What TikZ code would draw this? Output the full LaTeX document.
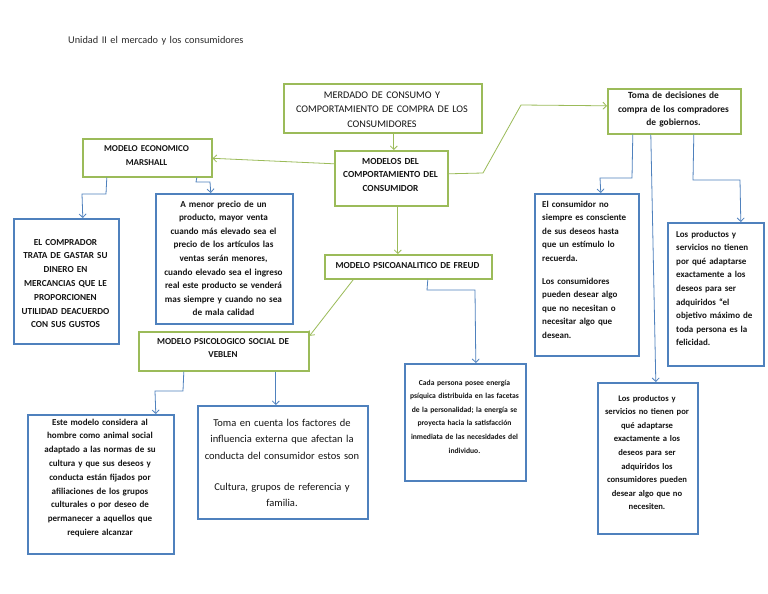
\documentclass[tikz,border=0pt]{standalone}
\usepackage{fontspec}
\setmainfont{Carlito}
\usetikzlibrary{arrows.meta}
\definecolor{gcol}{HTML}{9BBB59}
\definecolor{bcol}{HTML}{4F81BD}
\definecolor{tcol}{HTML}{141414}
\tikzset{
  gbox/.style={draw=gcol, line width=1.6pt, fill=white, anchor=north west, inner sep=0pt},
  bbox/.style={draw=bcol, line width=1.6pt, fill=white, anchor=north west, inner sep=0pt},
  txt/.style={text=tcol, align=center, inner sep=0pt, anchor=base},
  ltxt/.style={text=tcol, align=left, inner sep=0pt, anchor=base west},
  garr/.style={draw=gcol, line width=0.8pt, -{Straight Barb[length=3.5pt,width=7pt]}},
  barr/.style={draw=bcol, line width=0.8pt, -{Straight Barb[length=3.5pt,width=7pt]}}
}
\begin{document}
\begin{tikzpicture}[x=1pt,y=-1pt]
\useasboundingbox (0,0) rectangle (768,594);
\fill[white] (0,0) rectangle (768,594);

% title
\node[ltxt, text=tcol!90, font=\fontsize{10.3}{12}\selectfont, text width=250pt] (title) at (68,44) {Unidad II el mercado y los consumidores};

% boxes
\node[gbox, minimum width=198pt, minimum height=49pt] (top) at (283,83) {};
\node[gbox, minimum width=133pt, minimum height=45pt] (toma) at (607,88) {};
\node[gbox, minimum width=129pt, minimum height=38pt] (marshall) at (82,138) {};
\node[gbox, minimum width=113pt, minimum height=55pt] (modelos) at (334,150) {};
\node[bbox, minimum width=105pt, minimum height=125pt] (comprador) at (13,218) {};
\node[bbox, minimum width=137pt, minimum height=130pt] (amenor) at (155,193) {};
\node[gbox, minimum width=167pt, minimum height=24pt] (freud) at (324,254) {};
\node[gbox, minimum width=170pt, minimum height=39pt] (veblen) at (138,331) {};
\node[bbox, minimum width=104pt, minimum height=162pt] (consumidor) at (534,193) {};
\node[bbox, minimum width=96pt, minimum height=143pt] (prodR) at (667,222) {};
\node[bbox, minimum width=146pt, minimum height=139pt] (este) at (27,414) {};
\node[bbox, minimum width=170pt, minimum height=113pt] (tomaC) at (197,405) {};
\node[bbox, minimum width=121pt, minimum height=117pt] (cada) at (404,363) {};
\node[bbox, minimum width=100pt, minimum height=151pt] (prodB) at (597,382) {};

% texts
\node[txt, font=\fontsize{10.2}{14.5}\selectfont, text width=196pt] (topT) at (382,98)
  {MERDADO DE CONSUMO Y\\COMPORTAMIENTO DE COMPRA DE LOS\\CONSUMIDORES};
\node[txt, font=\bfseries\fontsize{9.4}{13.5}\selectfont, text width=131pt] (tomaT) at (673.5,99)
  {Toma de decisiones de\\compra de los compradores\\de gobiernos.};
\node[txt, font=\bfseries\fontsize{9}{14}\selectfont, text width=127pt] (marshallT) at (146.5,151)
  {MODELO ECONOMICO\\MARSHALL};
\node[txt, font=\bfseries\fontsize{9.3}{13.5}\selectfont, text width=111pt] (modelosT) at (390.5,164)
  {MODELOS DEL\\COMPORTAMIENTO DEL\\CONSUMIDOR};
\node[txt, font=\bfseries\fontsize{9.2}{12}\selectfont, text width=165pt] (freudT) at (407.5,268)
  {MODELO PSICOANALITICO DE FREUD};
\node[txt, font=\bfseries\fontsize{9.1}{13}\selectfont, text width=168pt] (veblenT) at (223,344)
  {MODELO PSICOLOGICO SOCIAL DE\\VEBLEN};
\node[txt, font=\bfseries\fontsize{9.2}{13.8}\selectfont, text width=103pt] (compradorT) at (65.5,245)
  {EL COMPRADOR\\TRATA DE GASTAR SU\\DINERO EN\\MERCANCIAS QUE LE\\PROPORCIONEN\\UTILIDAD DEACUERDO\\CON SUS GUSTOS};
\node[txt, font=\bfseries\fontsize{9.2}{13.6}\selectfont, text width=135pt] (amenorT) at (223.5,207)
  {A menor precio de un\\producto, mayor venta\\cuando más elevado sea el\\precio de los artículos las\\ventas serán menores,\\cuando elevado sea el ingreso\\real este producto se venderá\\mas siempre y cuando no sea\\de mala calidad};
\node[ltxt, font=\bfseries\fontsize{9}{13.5}\selectfont, text width=96pt] (consumidorT) at (542,207)
  {El consumidor no\\siempre es consciente\\de sus deseos hasta\\que un estímulo lo\\recuerda.\\[9.5pt]Los consumidores\\pueden desear algo\\que no necesitan o\\necesitar algo que\\desean.};
\node[ltxt, font=\bfseries\fontsize{9}{13.6}\selectfont, text width=88pt] (prodRT) at (676,237)
  {Los productos y\\servicios no tienen\\por qué adaptarse\\exactamente a los\\deseos para ser\\adquiridos “el\\objetivo máximo de\\toda persona es la\\felicidad.};
\node[txt, font=\bfseries\fontsize{9}{13.8}\selectfont, text width=144pt] (esteT) at (100,425)
  {Este modelo considera al\\hombre como animal social\\adaptado a las normas de su\\cultura y que sus deseos y\\conducta están fijados por\\afiliaciones de los grupos\\culturales o por deseo de\\permanecer a aquellos que\\requiere alcanzar};
\node[txt, font=\fontsize{10.5}{16.5}\selectfont, text width=168pt] (tomaCT) at (282,426)
  {Toma en cuenta los factores de\\influencia externa que afectan la\\conducta del consumidor estos son\\[14.5pt]Cultura, grupos de referencia y\\familia.};
\node[txt, font=\bfseries\fontsize{7.6}{13.6}\selectfont, text width=119pt] (cadaT) at (464.5,385)
  {Cada persona posee energía\\psíquica distribuida en las facetas\\de la personalidad; la energía se\\proyecta hacia la satisfacción\\inmediata de las necesidades del\\individuo.};
\node[txt, font=\bfseries\fontsize{8.6}{13.6}\selectfont, text width=99pt] (prodBT) at (647,401)
  {Los productos y\\servicios no tienen por\\qué adaptarse\\exactamente a los\\deseos para ser\\adquiridos los\\consumidores pueden\\desear algo que no\\necesiten.};

% bend coordinates
\coordinate (c1) at (483,173);
\coordinate (c2) at (521,105);
\coordinate (m1) at (106,194);
\coordinate (m2) at (82,194);
\coordinate (m3) at (196,182);
\coordinate (m4) at (210,182);
\coordinate (v1) at (183,391);
\coordinate (v2) at (155,391);
\coordinate (f1) at (427,290);
\coordinate (f2) at (475,290);
\coordinate (t1) at (632,178);
\coordinate (t2) at (600,178);
\coordinate (t3) at (693,180);
\coordinate (t4) at (740,180);

% green connectors
\draw[garr] ([xshift=11pt]top.south) -- ([xshift=2.5pt]modelos.north);
\draw[garr] ([yshift=14.5pt]modelos.west) -- ([yshift=-0.5pt]marshall.east);
\draw[garr] ([yshift=4.5pt]modelos.east) -- (c1) -- (c2) -- ([yshift=5.5pt]toma.west);
\draw[garr] ([xshift=6.5pt]modelos.south) -- ([xshift=-10.5pt]freud.north);
\draw[garr] ([xshift=-55pt]freud.south) -- ([yshift=15.5pt]veblen.east);

% blue connectors
\draw[barr] ([xshift=-40.5pt]marshall.south) -- (m1) -- (m2) -- ([xshift=16.5pt]comprador.north);
\draw[barr] ([xshift=49.5pt]marshall.south) -- (m3) -- (m4) -- ([xshift=-13.5pt]amenor.north);
\draw[barr] ([xshift=-40pt]veblen.south) -- (v1) -- (v2) -- ([xshift=55pt]este.north);
\draw[barr] ([xshift=52pt]veblen.south) -- ([xshift=-7pt]tomaC.north);
\draw[barr] ([xshift=19.5pt]freud.south) -- (f1) -- (f2) -- ([xshift=10.5pt]cada.north);
\draw[barr] ([xshift=-41.5pt]toma.south) -- (t1) -- (t2) -- ([xshift=14pt]consumidor.north);
\draw[barr] ([xshift=-23.5pt]toma.south) -- ([xshift=8pt]prodB.north);
\draw[barr] ([xshift=19.5pt]toma.south) -- (t3) -- (t4) -- ([xshift=25pt]prodR.north);
\end{tikzpicture}
\end{document}
